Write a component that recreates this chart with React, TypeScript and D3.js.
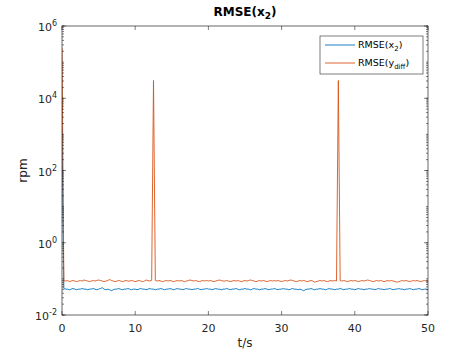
import React from "react";
import * as d3 from "d3";

const dt = 0.25;
const yDiffRmse = [
  250000, 0.090, 0.087, 0.090, 0.084, 0.087, 0.090, 0.087, 0.084, 0.087,
  0.090, 0.087, 0.093, 0.090, 0.087, 0.084, 0.087, 0.090, 0.087, 0.090,
  0.093, 0.090, 0.087, 0.084, 0.087, 0.090, 0.096, 0.090, 0.087, 0.084,
  0.087, 0.090, 0.087, 0.084, 0.087, 0.090, 0.087, 0.087, 0.090, 0.087,
  0.084, 0.087, 0.090, 0.087, 0.084, 0.087, 0.093, 0.090, 0.087, 0.090,
  31000, 0.090, 0.087, 0.090, 0.087, 0.084, 0.087, 0.090, 0.087, 0.090,
  0.087, 0.084, 0.087, 0.090, 0.087, 0.090, 0.087, 0.084, 0.087, 0.090,
  0.093, 0.090, 0.087, 0.090, 0.087, 0.084, 0.087, 0.090, 0.087, 0.090,
  0.087, 0.090, 0.087, 0.084, 0.087, 0.090, 0.093, 0.090, 0.087, 0.087,
  0.090, 0.087, 0.084, 0.087, 0.090, 0.087, 0.090, 0.087, 0.084, 0.087,
  0.090, 0.087, 0.090, 0.093, 0.090, 0.087, 0.084, 0.087, 0.090, 0.087,
  0.090, 0.087, 0.084, 0.087, 0.090, 0.087, 0.090, 0.087, 0.090, 0.087,
  0.084, 0.087, 0.090, 0.087, 0.090, 0.093, 0.090, 0.087, 0.084, 0.087,
  0.090, 0.087, 0.090, 0.087, 0.084, 0.087, 0.090, 0.087, 0.081, 0.084,
  0.087, 0.090, 0.087, 0.090, 0.087, 0.084, 0.087, 0.090, 0.087, 0.090,
  0.087, 31000, 0.090, 0.087, 0.090, 0.087, 0.084, 0.087, 0.090, 0.087,
  0.090, 0.087, 0.084, 0.087, 0.090, 0.087, 0.090, 0.093, 0.090, 0.087,
  0.084, 0.087, 0.090, 0.087, 0.090, 0.087, 0.084, 0.087, 0.090, 0.087,
  0.090, 0.087, 0.084, 0.081, 0.084, 0.087, 0.090, 0.087, 0.090, 0.087,
  0.084, 0.087, 0.090, 0.087, 0.090, 0.087, 0.084, 0.087, 0.090, 0.087,
  0.084,
];
const x2Rmse = [
  1500, 0.054, 0.052, 0.052, 0.050, 0.052, 0.054, 0.052, 0.050, 0.052,
  0.052, 0.054, 0.052, 0.052, 0.050, 0.052, 0.052, 0.054, 0.052, 0.050,
  0.052, 0.054, 0.057, 0.052, 0.050, 0.052, 0.050, 0.047, 0.050, 0.052,
  0.052, 0.054, 0.052, 0.050, 0.052, 0.052, 0.054, 0.052, 0.050, 0.052,
  0.052, 0.050, 0.052, 0.054, 0.052, 0.052, 0.050, 0.052, 0.054, 0.052,
  0.052, 0.050, 0.052, 0.052, 0.054, 0.052, 0.050, 0.052, 0.052, 0.054,
  0.052, 0.050, 0.052, 0.054, 0.052, 0.052, 0.050, 0.052, 0.054, 0.052,
  0.052, 0.050, 0.052, 0.052, 0.054, 0.052, 0.050, 0.052, 0.052, 0.054,
  0.052, 0.052, 0.050, 0.052, 0.054, 0.052, 0.052, 0.050, 0.052, 0.052,
  0.054, 0.052, 0.050, 0.052, 0.052, 0.054, 0.052, 0.050, 0.052, 0.052,
  0.054, 0.052, 0.052, 0.050, 0.052, 0.054, 0.052, 0.052, 0.050, 0.052,
  0.052, 0.054, 0.052, 0.050, 0.052, 0.052, 0.054, 0.052, 0.050, 0.052,
  0.052, 0.054, 0.052, 0.052, 0.050, 0.052, 0.054, 0.052, 0.052, 0.050,
  0.052, 0.050, 0.047, 0.050, 0.052, 0.052, 0.054, 0.052, 0.050, 0.052,
  0.052, 0.054, 0.052, 0.052, 0.050, 0.052, 0.054, 0.052, 0.052, 0.050,
  0.052, 0.052, 0.054, 0.052, 0.050, 0.052, 0.052, 0.054, 0.052, 0.052,
  0.050, 0.052, 0.054, 0.052, 0.052, 0.050, 0.052, 0.052, 0.054, 0.052,
  0.052, 0.050, 0.052, 0.054, 0.052, 0.052, 0.050, 0.052, 0.052, 0.054,
  0.052, 0.050, 0.052, 0.052, 0.054, 0.052, 0.052, 0.050, 0.052, 0.052,
  0.054, 0.052, 0.050, 0.052, 0.052, 0.054, 0.052, 0.050, 0.052, 0.052,
  0.050,
];
const xTicks = [0, 10, 20, 30, 40, 50];
const yMajorExp = [-2, 0, 2, 4, 6];

const W = 474, H = 355;
const L = 62, R = 428, T = 26, B = 315;
const AX = "#262626";
const BLUE = "#0072BD";
const ORANGE = "#D95319";
const FONT = "DejaVu Sans, sans-serif";

export default function App() {
  const x = d3.scaleLinear().domain([0, 50]).range([L, R]);
  const y = d3.scaleLog().domain([1e-2, 1e6]).range([B, T]);
  const line = d3
    .line<number>()
    .x((_, i) => x(i * dt))
    .y((v) => y(v));
  const minor = y.ticks();
  return (
    <svg width={W} height={H} style={{ position: "absolute", left: 0, top: 0, background: "#fff" }} fontFamily={FONT}>
      <rect x={0} y={0} width={W} height={H} fill="#fff" />
      <rect x={L} y={T} width={R - L} height={B - T} fill="#fff" />
      <defs>
        <clipPath id="clip">
          <rect x={L} y={T} width={R - L} height={B - T} />
        </clipPath>
      </defs>
      <g clipPath="url(#clip)">
        <path d={line(x2Rmse) || ""} fill="none" stroke={BLUE} strokeWidth={0.9} />
        <path d={line(yDiffRmse) || ""} fill="none" stroke={ORANGE} strokeWidth={0.9} />
      </g>
      {minor.map((v, i) => (
        <g key={"m" + i} stroke={AX} strokeWidth={0.6}>
          <line x1={L} x2={L + 2} y1={y(v)} y2={y(v)} />
          <line x1={R} x2={R - 2} y1={y(v)} y2={y(v)} />
        </g>
      ))}
      {yMajorExp.map((e) => (
        <g key={"y" + e}>
          <line x1={L} x2={L + 4} y1={y(Math.pow(10, e))} y2={y(Math.pow(10, e))} stroke={AX} strokeWidth={0.6} />
          <line x1={R} x2={R - 4} y1={y(Math.pow(10, e))} y2={y(Math.pow(10, e))} stroke={AX} strokeWidth={0.6} />
          <text x={57} y={y(Math.pow(10, e)) + 5} textAnchor="end" fontSize={11} fill={AX}>
            10
            <tspan dy={-5} fontSize={8}>{e < 0 ? "-" + Math.abs(e) : String(e)}</tspan>
          </text>
        </g>
      ))}
      {xTicks.map((t) => (
        <g key={"x" + t}>
          <line x1={x(t)} x2={x(t)} y1={B} y2={B - 4} stroke={AX} strokeWidth={0.6} />
          <line x1={x(t)} x2={x(t)} y1={T} y2={T + 4} stroke={AX} strokeWidth={0.6} />
          <text x={x(t)} y={B + 17} textAnchor="middle" fontSize={11} fill={AX}>
            {t}
          </text>
        </g>
      ))}
      <rect x={L} y={T} width={R - L} height={B - T} fill="none" stroke={AX} strokeWidth={0.7} />
      <text x={(L + R) / 2} y={16} textAnchor="middle" fontSize={12} fontWeight="bold" fill="#000">
        RMSE(x<tspan dy={3} fontSize={9}>2</tspan><tspan dy={-3}>)</tspan>
      </text>
      <text x={(L + R) / 2} y={347} textAnchor="middle" fontSize={12} fill={AX}>
        t/s
      </text>
      <text transform={`translate(27,${(T + B) / 2}) rotate(-90)`} textAnchor="middle" fontSize={12} fill={AX}>
        rpm
      </text>
      <g>
        <rect x={320} y={36} width={103} height={38} fill="#fff" stroke={AX} strokeWidth={0.6} />
        <line x1={325} x2={355} y1={45} y2={45} stroke={BLUE} strokeWidth={0.9} />
        <text x={358} y={48} fontSize={9.5} fill="#000">
          RMSE(x<tspan dy={3} fontSize={7}>2</tspan><tspan dy={-3}>)</tspan>
        </text>
        <line x1={325} x2={355} y1={63} y2={63} stroke={ORANGE} strokeWidth={0.9} />
        <text x={358} y={66} fontSize={9.5} fill="#000">
          RMSE(y<tspan dy={3} fontSize={7}>diff</tspan><tspan dy={-3}>)</tspan>
        </text>
      </g>
    </svg>
  );
}
